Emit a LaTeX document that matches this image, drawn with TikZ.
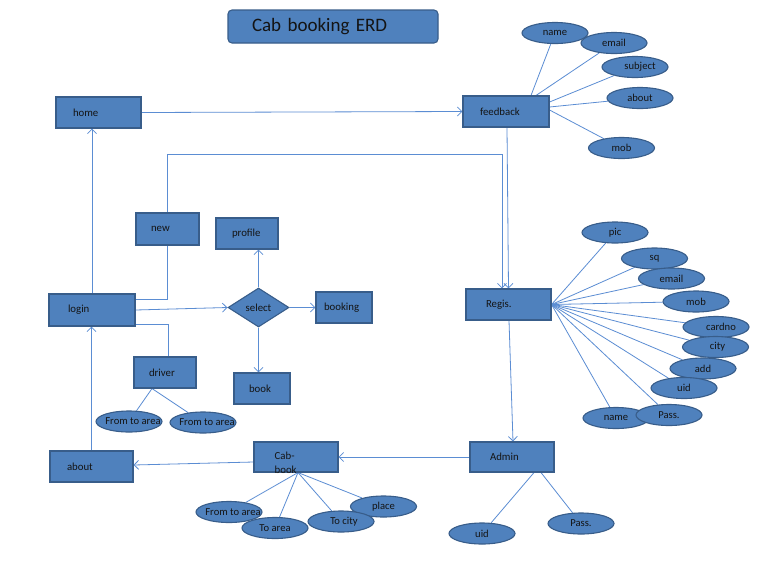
\documentclass[tikz,border=0pt]{standalone}
\usepackage{fontspec}
\setmainfont{Carlito}
\usetikzlibrary{shapes.geometric,arrows.meta,backgrounds}
\definecolor{fillb}{HTML}{4F81BD}
\definecolor{edgeb}{HTML}{385D8A}
\definecolor{lineb}{HTML}{5B8DD3}
\definecolor{txt}{HTML}{141414}
\newcommand{\zb}[2][0pt]{\makebox[0pt]{\hspace*{#1}#2}}
\begin{document}
\begin{tikzpicture}[x=1pt,y=-1pt,
  box/.style={draw=edgeb, line width=1.1pt, fill=fillb, minimum height=31pt, inner ysep=0pt, inner xsep=17pt, align=left, font=\fontsize{10.8}{14}\selectfont, text=txt},
  attr/.style={ellipse, draw=edgeb, line width=1.1pt, fill=fillb, minimum width=66pt, minimum height=21pt, inner sep=0pt, font=\fontsize{10.6}{12}\selectfont, text=txt},
  conn/.style={draw=lineb, line width=0.8pt},
  arr/.style={conn, -{Straight Barb[length=4.5pt,width=9pt]}},
]
\useasboundingbox (0,0) rectangle (768,576);

% title
\node[draw=edgeb, line width=1.1pt, fill=fillb, rounded corners=4pt, minimum width=210pt, minimum height=33pt, inner ysep=0pt, inner xsep=24pt, text width=162pt, align=left, text=txt, font=\fontsize{19}{22}\selectfont] (title) at (333,26.5) {Cab booking ERD};

% entity boxes
\node[box, minimum width=85pt, text width=51pt] (home) at (98.5,112.5) {home};
\node[box, minimum width=86pt, text width=52pt] (feedback) at (506,111.5) {feedback};
\node[box, minimum width=63pt, minimum height=32pt, inner xsep=15pt, text width=33pt] (new) at (167.5,229) {new};
\node[box, minimum width=62pt, inner xsep=16pt, text width=30pt] (profile) at (247,233.5) {profile};
\node[box, minimum width=86pt, minimum height=32pt, inner xsep=19pt, text width=48pt] (login) at (92,310) {login};
\node[diamond, draw=edgeb, line width=1.1pt, fill=fillb, minimum width=61pt, minimum height=39pt, aspect=1.56, inner sep=0pt, text=txt, font=\fontsize{10.8}{12}\selectfont] (select) at (258.5,307.5) {select};
\node[box, minimum width=56pt, inner xsep=8pt, text width=40pt] (booking) at (344,307.5) {booking};
\node[box, minimum width=62pt, inner xsep=15pt, text width=32pt] (driver) at (165,372.5) {driver};
\node[box, minimum width=56pt, inner xsep=15pt, text width=26pt] (book) at (262,388.5) {book};
\node[box, minimum width=85pt, inner xsep=20pt, text width=45pt] (regis) at (508.5,304.5) {Regis.};
\node[box, minimum width=84pt, minimum height=30pt, inner xsep=20pt, text width=44pt] (admin) at (512,457) {Admin};
\node[box, minimum width=83pt, inner xsep=17pt, text width=49pt] (about) at (91.5,466.5) {about};
\node[box, minimum width=84pt, minimum height=30pt, inner xsep=21pt, text width=42pt] (cab) at (296,457) {};
\node[anchor=west, align=left, inner sep=0pt, text=txt, font=\fontsize{10.8}{14}\selectfont] (cabtext) at ([xshift=21pt,yshift=-6pt]cab.west) {Cab-\\book};

% feedback attributes
\node[attr] (fname) at (555,33) {\zb{name}};
\node[attr] (femail) at (614,43) {\zb{email}};
\node[attr] (fsubj) at (635,67) {\zb[10pt]{subject}};
\node[attr] (fabout) at (640,98) {\zb{about}};
\node[attr] (fmob) at (621.5,148) {\zb{mob}};

% regis attributes
\node[attr] (pic) at (615,232.5) {\zb{pic}};
\node[attr] (sq) at (654.5,258.5) {\zb{sq}};
\node[attr] (remail) at (671.5,278.5) {\zb{email}};
\node[attr] (rmob) at (696,301.5) {\zb{mob}};
\node[attr] (cardno) at (716,327) {\zb[10pt]{cardno}};
\node[attr] (city) at (715.5,347) {\zb[4pt]{city}};
\node[attr] (add) at (703,368.5) {\zb{add}};
\node[attr] (ruid) at (684,388) {\zb{uid}};
\node[attr] (rname) at (616,418) {\zb{name}};
\node[attr] (rpass) at (669,415) {\zb{Pass.}};

% driver attributes
\node[attr] (d1) at (129,421.5) {\zb[8pt]{From to area}};
\node[attr] (d2) at (203,422.5) {\zb[8pt]{From to area}};

% cab-book attributes
\node[attr] (cfrom) at (229,512) {\zb[8pt]{From to area}};
\node[attr] (cto) at (275,528) {\zb{To area}};
\node[attr] (cplace) at (383.5,506.5) {\zb{place}};
\node[attr] (ccity) at (341,521.5) {\zb[6pt]{To city}};

% admin attributes
\node[attr] (auid) at (482,533.5) {\zb{uid}};
\node[attr] (apass) at (581,523.5) {\zb{Pass.}};

\begin{scope}[on background layer]
  \fill[white] (0,0) rectangle (768,576);
  % main flow
  \draw[arr] (home.east) -- (feedback.west);
  \draw[arr] (login.north) -- (login.north |- home.south);
  \draw[arr] (about.north) -- (about.north |- login.south);
  \draw[conn] ([yshift=11pt]login.east) -| (new.south);
  \draw[arr] (new.north) -- ++(0,-58) -| ([xshift=-6.5pt]regis.north);
  \draw[arr] ([xshift=1pt]feedback.south) -- (regis.north);
  \draw[conn] ([yshift=-14pt]login.east) -| ([xshift=3pt]driver.north);
  \draw[arr] (login.east) -- (select.west);
  \draw[arr] (select.north) -- (select.north |- profile.south);
  \draw[arr] (select.east) -- (booking.west);
  \draw[arr] (select.south) -- (select.south |- book.north);
  \draw[arr] ([xshift=0.5pt]regis.south) -- ([xshift=1pt]admin.north);
  \draw[arr] (admin.west) -- (cab.east);
  \draw[arr] ([yshift=-5pt]cab.west) -- ([yshift=1.5pt]about.east);

  % attribute links
  \draw[conn] ([xshift=25pt]feedback.north) -- (fname);
  \draw[conn] ([xshift=30pt]feedback.north) -- (femail);
  \draw[conn] ([yshift=9.5pt]feedback.east) -- (fsubj);
  \draw[conn] ([yshift=4.5pt]feedback.east) -- (fabout);
  \draw[conn] ([yshift=1.5pt]feedback.east) -- (fmob);

  \foreach \t in {pic,sq,remail,rmob,cardno,city,add,ruid,rpass,rname}
    \draw[conn] (regis.east) -- (\t);

  \draw[conn] ([xshift=-13pt]driver.south) -- (d1);
  \draw[conn] ([xshift=-13pt]driver.south) -- (d2);

  \foreach \t in {cfrom,cto,ccity,cplace}
    \draw[conn] ([xshift=2pt]cab.south) -- (\t);

  \draw[conn] ([xshift=22pt]admin.south) -- (auid);
  \draw[conn] ([xshift=29pt]admin.south) -- (apass);
\end{scope}
\end{tikzpicture}
\end{document}
